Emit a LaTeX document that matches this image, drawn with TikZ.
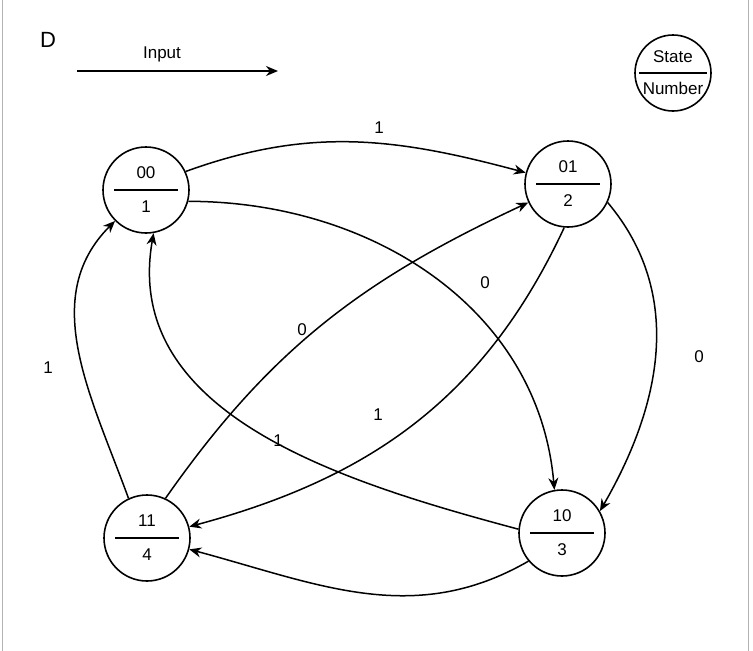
\documentclass[tikz,border=0pt]{standalone}
\usepackage{fontspec}
\setmainfont{Liberation Sans}
\usetikzlibrary{arrows.meta}
\begin{document}
\begin{tikzpicture}[x=1pt,y=-1pt,font=\fontsize{17}{20}\selectfont,
  st/.style={circle,draw,line width=1.6pt,minimum size=86pt,inner sep=0pt,align=center,
    path picture={\draw[line width=1.6pt] ([xshift=-32pt]path picture bounding box.center) -- ([xshift=32pt]path picture bounding box.center);}},
  ar/.style={line width=1.5pt,-{Stealth[length=12pt,width=10pt]}}]
\useasboundingbox (0,0) rectangle (753,651);
\draw[gray!60] (2,0) -- (2,651) (748,0) -- (748,651);
\node (D) at (48,40) {\fontsize{22}{24}\selectfont D};
\node (inp) at (162,54) {Input};
\coordinate (ia) at (77,71); \coordinate (ib) at (278,71);
\draw[ar] (ia) -- (ib);
\node[st,minimum size=76pt,path picture={\draw[line width=1.6pt] ([xshift=-34pt]path picture bounding box.center) -- ([xshift=34pt]path picture bounding box.center);}] (key) at (673,73) {State\\[12pt]Number};
\node[st] (a) at (146,190) {00\\[14pt]1};
\node[st] (b) at (568,184) {01\\[14pt]2};
\node[st] (c) at (562,533) {10\\[14pt]3};
\node[st] (d) at (147,538) {11\\[14pt]4};
\draw[ar] (a.25) to[out=20,in=165] (b.165);
\draw[ar] (a.-15) to[out=0,in=95] (c.100);
\draw[ar] (b.-25) to[out=-50,in=60] (c.30);
\draw[ar] (b.-95) to[out=-115,in=15] (d.15);
\draw[ar] (d.65) to[out=55,in=205] (b.205);
\draw[ar] (c.175) to[out=165,in=-100] (a.-80);
\draw[ar] (c.-140) to[out=-150,in=-15] (d.-15);
\draw[ar] (d.115) to[out=110,in=-135] (a.-135);
\node (l1) at (379,128) {1};
\node (l2) at (485,283) {0};
\node (l3) at (699,357) {0};
\node (l4) at (378,415) {1};
\node (l5) at (302,330) {0};
\node (l6) at (278,441) {1};
\node (l8) at (48,368) {1};
\end{tikzpicture}
\end{document}
